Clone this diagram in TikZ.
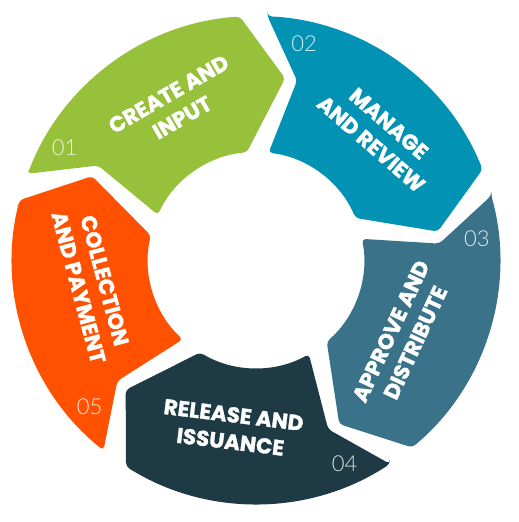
\documentclass[tikz,border=0pt]{standalone}
\usepackage{fontspec}
\usepackage{tikz}
\newfontfamily\segfont{Poppins}[BoldFeatures={FakeBold=1.5}]
\newfontfamily\numfont{Lato Light}
\definecolor{gg}{RGB}{151, 193, 58}
\definecolor{bb}{RGB}{2, 146, 180}
\definecolor{ss}{RGB}{58, 115, 137}
\definecolor{dd}{RGB}{30, 58, 68}
\definecolor{oo}{RGB}{255, 81, 0}
\def\outerR{244pt}
\def\innerR{108pt}
\def\midR{184pt}
\newcommand{\cyclepart}[8]{\fill[#2,rounded corners=4pt] ({#1-3.2}:\outerR) -- ({#1-13.4}:\midR) -- ({#1-7.2}:\innerR)
		arc[start angle={#1-7.2},end angle={#1-67.6},radius=\innerR] -- ({#1-81.6}:\midR) -- ({#1-68.7}:\outerR)
		arc[start angle={#1-68.7},end angle={#1-3.2},radius=\outerR] -- cycle;
	\node[numtext] (n#4) at ({#1-13}:222pt) {#4};
	\node[segtext,rotate=#7] (#3) at ({#5}:#6) {#8}; }
\tikzset{segtext/.style={text=white,align=center,inner sep=0pt,font=\segfont\bfseries\fontsize{21.5}{27}\selectfont},
	numtext/.style={text=white,text opacity=0.85,inner sep=0pt,font=\numfont\fontsize{22}{22}\selectfont}}

\begin{document}
\begin{tikzpicture}
				\useasboundingbox (-256pt,-262pt) rectangle (263pt,260pt);
				\cyclepart{162.5}{gg}{create}{01}{117.6}{174pt}{30}{CREATE AND\\INPUT}
				\cyclepart{90.5}{bb}{manage}{02}{45.5}{177pt}{-41}{MANAGE\\AND REVIEW}
				\cyclepart{18.5}{ss}{approve}{03}{-27.6}{166pt}{65}{APPROVE AND\\DISTRIBUTE}
				\cyclepart{-53.5}{dd}{release}{04}{-98.1}{170pt}{-7}{RELEASE AND\\ISSUANCE}
				\cyclepart{-125.5}{oo}{collect}{05}{188.3}{166pt}{-75}{COLLECTION\\AND PAYMENT}
			\end{tikzpicture}
\end{document}
